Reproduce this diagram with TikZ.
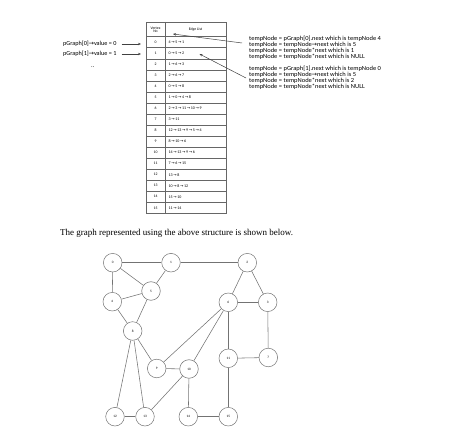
\documentclass[tikz,border=0pt]{standalone}
\usepackage{fontspec}
\setmainfont{Liberation Serif}
\newfontfamily\calfont{Carlito}
\newfontfamily\notefont[FakeStretch=1.05]{Carlito}
\newfontfamily\arrowfont{DejaVu Sans}
\newcommand\tarr{\,{\arrowfont →}\,}
\usetikzlibrary{arrows.meta}
\tikzset{
  gn/.style={circle, draw=black!55, line width=0.5pt, minimum size=18.6pt, inner sep=0pt,
             font=\calfont\fontsize{3.4}{3.4}\selectfont},
  ge/.style={draw=black!55, line width=0.55pt},
  tbl/.style={draw=black!60, line width=0.5pt},
  cellv/.style={inner sep=0pt, font=\calfont\fontsize{3.8}{3.8}\selectfont},
  celle/.style={inner sep=0pt, anchor=west, font=\calfont\fontsize{4}{4}\selectfont},
  note/.style={inner sep=0pt, align=left, anchor=north west, font=\notefont\fontsize{6.2}{6}\selectfont},
  lbl/.style={inner sep=0pt, anchor=base west, font=\calfont\fontsize{6.2}{6.2}\selectfont},
  ptr/.style={draw=black!75, line width=0.5pt, -{Stealth[length=3pt,width=2.4pt]}},
}
\begin{document}
\begin{tikzpicture}[x=1pt,y=-1pt]
\useasboundingbox (0,0) rectangle (474,443);

% ---------- table ----------
\draw[tbl] (146,22) rectangle (226,213.3);
\draw[tbl] (165,22) -- (165,213.3);
\foreach \i in {0,...,15} {
  \draw[tbl] (146,36.7+\i*11.04) -- (226,36.7+\i*11.04);
}
\node[cellv, align=center] (hv) at (155.5,30) {Vertex\\[-0.3pt]No};
\node[cellv] (he) at (195.5,29.5) {Edge List};

\foreach \i/\e in {0/{4\tarr 5\tarr 1}, 1/{0\tarr 5\tarr 2}, 2/{1\tarr 6\tarr 3},
  3/{2\tarr 6\tarr 7}, 4/{0\tarr 5\tarr 8}, 5/{1\tarr 0\tarr 4\tarr 8},
  6/{2\tarr 3\tarr 11\tarr 10\tarr 9}, 7/{3\tarr 11}, 8/{12\tarr 13\tarr 9\tarr 5\tarr 4},
  9/{8\tarr 10\tarr 6}, 10/{14\tarr 13\tarr 9\tarr 6}, 11/{7\tarr 6\tarr 15},
  12/{13\tarr 8}, 13/{10\tarr 8\tarr 12}, 14/{15\tarr 10}, 15/{11\tarr 14}} {
  \node[cellv] (v\i) at (155.5,42.2+\i*11.04) {\i};
  \node[celle] (e\i) at (168.5,42.2+\i*11.04) {\e};
}

% ---------- left labels ----------
\node[lbl] (p0) at (63,46) {pGraph[0]{\arrowfont →}value = 0};
\node[lbl] (p1) at (63,56) {pGraph[1]{\arrowfont →}value = 1};
\node[lbl] (pd) at (91,68) {..};
\coordinate (la0) at (141,44);
\coordinate (la1) at (141,54);
\draw[ptr] (121.5,44) -- (la0);
\draw[ptr] (121.5,54) -- (la1);

% ---------- right notes ----------
\node[note] (g1) at (249,35.5) {tempNode = pGraph[0].next which is tempNode 4\\
tempNode = tempNode{\arrowfont →}next which is 5\\
tempNode = tempNode*next which is 1\\
tempNode = tempNode*next which is NULL};
\node[note] (g2) at (249,65.5) {tempNode = pGraph[1].next which is tempNode 0\\
tempNode = tempNode{\arrowfont →}next which is 5\\
tempNode = tempNode*next which is 2\\
tempNode = tempNode*next which is NULL};
\coordinate (s1) at (242,43);
\coordinate (s2) at (246,78);
\coordinate (a1) at (173,34);
\coordinate (a2) at (199.5,54);
\draw[ptr] (s1) -- (a1);
\draw[ptr] (s2) -- (a2);

% ---------- caption ----------
\node[inner sep=0pt, anchor=base west, font=\fontsize{9}{9}\selectfont] (cap) at (60,236)
  {The graph represented using the above structure is shown below.};

% ---------- graph ----------
\node[gn] (n0)  at (112.7,262.7) {0};
\node[gn] (n1)  at (171,262.7) {1};
\node[gn] (n2)  at (247.3,262.7) {2};
\node[gn] (n5)  at (151,291) {5};
\node[gn] (n4)  at (112.3,301.7) {4};
\node[gn] (n6)  at (228.3,302.3) {6};
\node[gn] (n3)  at (267.7,302.3) {3};
\node[gn] (n8)  at (132.7,331) {8};
\node[gn] (n11) at (228.3,358.3) {11};
\node[gn] (n7)  at (268.3,357.5) {7};
\node[gn] (n9)  at (156.7,368.5) {9};
\node[gn] (n10) at (189,369) {10};
\node[gn] (n12) at (115,416.7) {12};
\node[gn] (n13) at (145,416.7) {13};
\node[gn] (n14) at (188.3,416.7) {14};
\node[gn] (n15) at (228.3,416.7) {15};

\draw[ge] (n0) -- (n1);
\draw[ge] (n0) -- (n4);
\draw[ge] (n0) -- (n5);
\draw[ge] (n1) -- (n5);
\draw[ge] (n1) -- (n2);
\draw[ge] (n2) -- (n6);
\draw[ge] (n2) -- (n3);
\draw[ge] (n4) -- (n5);
\draw[ge] (n4) -- (n8);
\draw[ge] (n5) -- (n8);
\draw[ge] (n6) -- (n3);
\draw[ge] (n6) -- (n9);
\draw[ge] (n6) -- (n10);
\draw[ge] (n6) -- (n11);
\draw[ge] (n3) -- (n7);
\draw[ge] (n11) -- (n7);
\draw[ge] (n11) -- (n15);
\draw[ge] (n8) -- (n9);
\draw[ge] (n8) -- (n12);
\draw[ge] (n8) -- (n13);
\draw[ge] (n9) -- (n10);
\draw[ge] (n10) -- (n13);
\draw[ge] (n10) -- (n14);
\draw[ge] (n12) -- (n13);
\draw[ge] (n14) -- (n15);
\end{tikzpicture}
\end{document}
